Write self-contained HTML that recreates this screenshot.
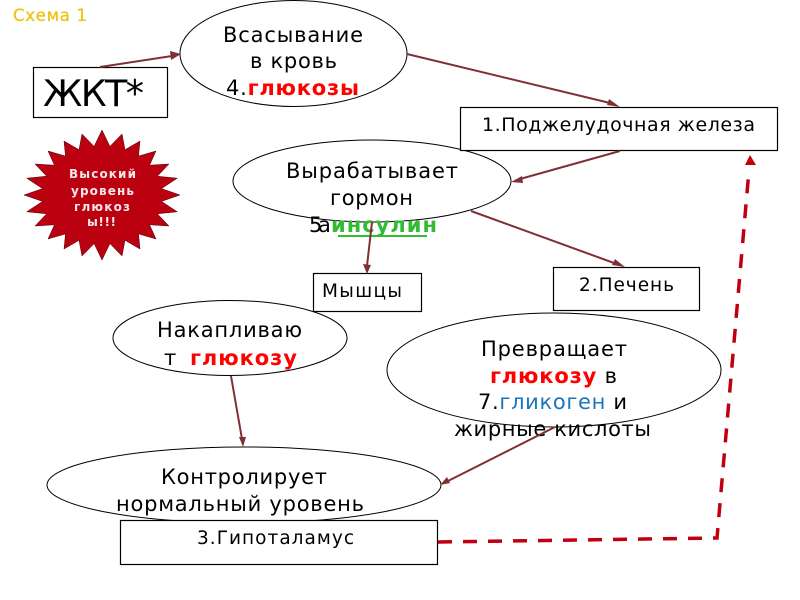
<!DOCTYPE html>
<html><head><meta charset="utf-8"><style>
html,body{margin:0;padding:0;background:#fff}
svg{display:block}
text{font-family:"DejaVu Sans",sans-serif;font-size:21px;fill:#000}
.r{fill:#f00;font-weight:bold}
.g{fill:#33bb33;font-weight:bold}
.b{fill:#1b75bb}
.a{stroke:#7f3035;stroke-width:2;fill:none}
.h{fill:#7f3035}
.e{fill:#fff;stroke:#000;stroke-width:1}
.w{fill:#fff;stroke:#000;stroke-width:1.2}
.s{fill:#f6e6e6;font-size:12px;font-weight:bold}
</style></head><body>
<svg width="800" height="600" viewBox="0 0 800 600" xmlns="http://www.w3.org/2000/svg">
<rect width="800" height="600" fill="#fff"/>
<text x="13" y="21" textLength="74" style="font-size:16.5px;fill:#eec214;stroke:#eec214;stroke-width:.3">Схема 1</text>

<ellipse class="e" cx="293.5" cy="53.5" rx="113.5" ry="53"/>
<ellipse class="e" cx="372" cy="181" rx="139" ry="41"/>
<ellipse class="e" cx="230" cy="338" rx="117" ry="37.5"/>
<ellipse class="e" cx="554" cy="370" rx="167" ry="57"/>
<ellipse class="e" cx="244" cy="485" rx="197" ry="38"/>

<rect class="w" x="33.5" y="67.5" width="134" height="50"/>
<rect class="w" x="460.5" y="107.5" width="317" height="43"/>
<rect class="w" x="313.5" y="273.5" width="108" height="38"/>
<rect class="w" x="553.5" y="267.5" width="146" height="43"/>
<rect class="w" x="120.5" y="520.5" width="317" height="44"/>

<text x="43" y="106" textLength="101" style="font-size:36.5px">ЖКТ*</text>
<text x="223" y="42" textLength="140">Всасывание</text>
<text x="250" y="68" textLength="87">в кровь</text>
<text x="226" y="95" textLength="133">4.<tspan class="r">глюкозы</tspan></text>
<text x="482" y="131" textLength="273" style="font-size:19px">1.Поджелудочная железа</text>
<text x="286" y="178" textLength="172">Вырабатывает</text>
<text x="330" y="205" textLength="83">гормон</text>
<text x="309" y="232">5</text>
<text x="318" y="232">а</text>
<text x="331" y="232" textLength="106" class="g" style="font-size:21px">инсулин</text>
<rect x="338" y="235" width="89" height="2" fill="#33bb33"/>
<text x="322" y="297" textLength="80" style="font-size:18.5px">Мышцы</text>
<text x="579" y="291" textLength="95" style="font-size:18.5px">2.Печень</text>
<text x="157" y="337" textLength="145">Накапливаю</text>
<text x="164" y="365">т</text>
<text x="190" y="365" textLength="107" class="r">глюкозу</text>
<text x="481" y="356" textLength="146">Превращает</text>
<text x="490" y="383" textLength="127"><tspan class="r">глюкозу</tspan> в</text>
<text x="478" y="409" textLength="149">7.<tspan class="b">гликоген</tspan> и</text>
<text x="454" y="436" textLength="197">жирные кислоты</text>
<text x="161" y="484" textLength="166">Контролирует</text>
<text x="116" y="511" textLength="248">нормальный уровень</text>
<text x="197" y="544" textLength="157" style="font-size:18.5px">3.Гипоталамус</text>

<!-- arrows -->
<path class="a" d="M100 67 L172 56"/><path class="h" d="M181 54 L170 51 L171 60Z"/>
<path class="a" d="M407 54 L610 103"/><path class="h" d="M620 107 L609 99 L607 105Z"/>
<path class="a" d="M620 151 L520 179"/><path class="h" d="M511 182 L522 176 L523 183Z"/>
<path class="a" d="M471 211 L614 263"/><path class="h" d="M625 267 L615 259 L612 265Z"/>
<path class="a" d="M372 222 L367 266"/><path class="h" d="M367 274 L363 264 L371 265Z"/>
<path class="a" d="M231 376 L242 439"/><path class="h" d="M243 447 L239 437 L246 437Z"/>
<path class="a" d="M555 427 L448 481"/><path class="h" d="M440 485 L447 477 L450 483Z"/>

<path d="M438 542 L717 538 L749 170" fill="none" stroke="#c00010" stroke-width="3.5" stroke-dasharray="14 11"/>
<path d="M750 155 L756 165 L745 165Z" fill="#c00010"/>

<g transform="translate(102 195)">
<polygon fill="#bb0010" stroke="#400" stroke-width=".5" points="78,0 59.5,-6.4 75.3,-16.8 55.4,-18.8 67,-31 47.6,-29.8 54,-44 36.5,-38.9 38,-54 23,-45.3 20,-61 7.9,-48.6 0,-65 -7.9,-48.6 -20,-61 -23,-45.3 -38,-54 -36.5,-38.9 -54,-44 -47.6,-29.8 -67,-31 -55.4,-18.8 -75.3,-16.8 -59.5,-6.4 -78,0 -59.5,6.4 -75.3,16.8 -55.4,18.8 -67,31 -47.6,29.8 -54,44 -36.5,38.9 -38,54 -23,45.3 -20,61 -7.9,48.6 0,65 7.9,48.6 20,61 23,45.3 38,54 36.5,38.9 54,44 47.6,29.8 67,31 55.4,18.8 75.3,16.8 59.5,6.4"/>
</g>
<text class="s" x="69" y="178" textLength="67">Высокий</text>
<text class="s" x="71" y="195" textLength="63">уровень</text>
<text class="s" x="74" y="211" textLength="56">глюкоз</text>
<text class="s" x="87" y="226" textLength="29">ы!!!</text>
</svg>
</body></html>
